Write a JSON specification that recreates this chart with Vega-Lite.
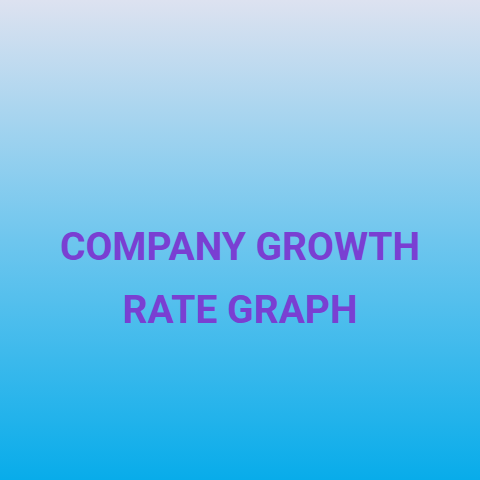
{
  "$schema": "https://vega.github.io/schema/vega-lite/v6.json",
  "width": 480,
  "height": 480,
  "padding": 0,
  "autosize": {"type": "fit", "contains": "padding"},
  "background": "#08acea",
  "config": {"view": {"stroke": null}},
  "data": {"values": [{"title": ["COMPANY GROWTH", "RATE GRAPH"]}]},
  "layer": [
    {
      "mark": {
        "type": "rect",
        "fill": {
          "gradient": "linear",
          "x1": 0, "y1": 0, "x2": 0, "y2": 1,
          "stops": [
            {"offset": 0, "color": "#dde2f0"},
            {"offset": 0.5, "color": "#6ec6ee"},
            {"offset": 1, "color": "#08acea"}
          ]
        }
      },
      "encoding": {}
    },
    {
      "mark": {
        "type": "text",
        "font": "Roboto",
        "fontWeight": "bold",
        "fontSize": 39,
        "color": "#7a3fd2",
        "align": "center",
        "baseline": "middle",
        "lineHeight": 63,
        "dy": 8
      },
      "encoding": {"text": {"field": "title"}}
    }
  ]
}
